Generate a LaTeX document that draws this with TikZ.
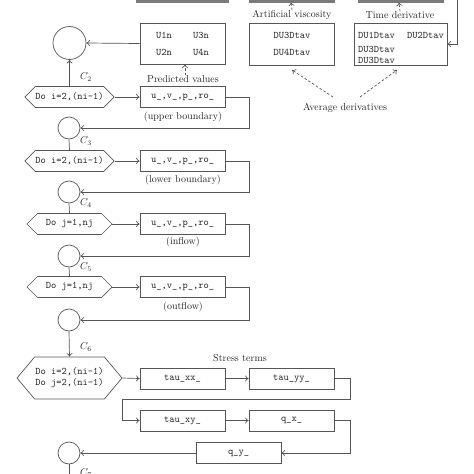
\documentclass[tikz,border=0pt]{standalone}
\usetikzlibrary{shapes.symbols,arrows.meta}
\definecolor{lc}{HTML}{555555}
\definecolor{tc}{HTML}{222222}
\definecolor{gs}{HTML}{7A7A7A}
\begin{document}
\begin{tikzpicture}[x=1pt,y=-1pt,
  line/.style={draw=lc, line width=0.7pt},
  arr/.style={line, -{To[length=3.5pt,width=6pt]}},
  dsh/.style={line, dashed, dash pattern=on 2.5pt off 2pt, -{To[length=3.5pt,width=6pt]}},
  box/.style={draw=lc, line width=0.7pt, minimum width=85pt, minimum height=21pt, inner sep=0pt, text=tc, font=\ttfamily\fontsize{10}{12}\selectfont},
  hexa/.style={signal, signal to=west and east, signal pointer angle=90, draw=lc, line width=0.7pt, minimum width=85pt, minimum height=21pt, inner sep=0pt, text=tc, font=\ttfamily\fontsize{10}{12}\selectfont},
  circ/.style={circle, draw=lc, line width=0.7pt, minimum size=22pt, inner sep=0pt},
  lab/.style={inner sep=0pt, text=tc, font=\fontsize{10}{12}\selectfont},
  tt/.style={inner sep=0pt, text=tc, font=\ttfamily\fontsize{10}{12}\selectfont}]
\useasboundingbox (0,0) rectangle (474,474);
% gray strips at top (bottoms of boxes above the frame)
\fill[gs] (136,-6) rectangle (229,2.5);
\fill[gs] (249,-6) rectangle (335,2.5);
\fill[gs] (358,-6) rectangle (444,2.5);
\coordinate (g2) at (291,2.5);
\coordinate (g3) at (399,2.5);
\coordinate (tr) at (457,-2);
% top boxes
\node[box, minimum width=85pt, minimum height=41pt] (pv) at (182.5,43.5) {};
\node[tt] (u1) at (164,35) {U1n};
\node[tt] (u3) at (201,35) {U3n};
\node[tt] (u2) at (164,52) {U2n};
\node[tt] (u4) at (201,52) {U4n};
\node[lab] (pvl) at (183,79) {Predicted values};
\node[box, minimum width=85pt, minimum height=42pt] (av) at (291.5,44) {};
\node[tt] (a3) at (292,35) {DU3Dtav};
\node[tt] (a4) at (292,52) {DU4Dtav};
\node[lab] (avl) at (292,15) {Artificial viscosity};
\node[box, minimum width=93pt, minimum height=42pt] (td) at (400.5,44) {};
\node[tt, anchor=west] (t1) at (358,35) {DU1Dtav};
\node[tt] (t2) at (425.5,35) {DU2Dtav};
\node[tt, anchor=west] (t3) at (358,49) {DU3Dtav};
\node[tt, anchor=west] (t4) at (358,60) {DU3Dtav};
\node[lab] (tdl) at (400,15) {Time derivative};
\node[lab] (adl) at (345,108) {Average derivatives};
\coordinate (ad1) at (333,97);
\coordinate (ad2) at (360,97);
\coordinate (ae1) at (292,70);
\coordinate (ae2) at (397,70);
\draw[dsh] (avl.north) -- (g2);
\draw[dsh] (tdl.north) -- (g3);
\draw[dsh] (pvl.north -| 185,0) -- (pv.south -| 185,0);
\draw[dsh] (ad1) -- (ae1);
\draw[dsh] (ad2) -- (ae2);
\draw[arr] (tr) |- (td.east);
% circles
\node[circ, minimum size=33pt] (c1) at (69.5,43) {};
\node[circ] (c3) at (69,128) {};
\node[circ] (c4) at (69,192) {};
\node[circ] (c5) at (69,256) {};
\node[circ] (c6) at (69,320) {};
\node[circ] (c7) at (69,453) {};
\node[lab] (l2) at (86,77) {$C_2$};
\node[lab] (l3) at (86,141) {$C_3$};
\node[lab] (l4) at (86,203) {$C_4$};
\node[lab] (l5) at (86,267) {$C_5$};
\node[lab] (l6) at (86,347) {$C_6$};
\node[lab] (l7) at (86,473) {$C_7$};
% hexagons
\node[hexa] (h1) at (69.5,97) {Do i=2,(ni-1)};
\node[hexa] (h2) at (69.5,161) {Do i=2,(ni-1)};
\node[hexa] (h3) at (69.5,224) {Do j=1,nj};
\node[hexa] (h4) at (69.5,287) {Do j=1,nj};
\node[hexa, minimum width=105pt, minimum height=42pt, signal pointer angle=100, align=center] (h5) at (69.5,378) {Do i=2,(ni-1)\\[-1pt]Do j=2,(ni-1)};
% boundary boxes
\node[box] (b1) at (182.5,97) {u\_,v\_,p\_,ro\_};
\node[box] (b2) at (182.5,161) {u\_,v\_,p\_,ro\_};
\node[box] (b3) at (182.5,224) {u\_,v\_,p\_,ro\_};
\node[box] (b4) at (182.5,287) {u\_,v\_,p\_,ro\_};
\node[lab] (bl1) at (183,117) {(upper boundary)};
\node[lab] (bl2) at (183,180) {(lower boundary)};
\node[lab] (bl3) at (183,242) {(inflow)};
\node[lab] (bl4) at (183,307) {(outflow)};
% stress boxes
\node[lab] (stl) at (240,358) {Stress terms};
\node[box] (txx) at (182.5,378.5) {tau\_xx\_};
\node[box] (tyy) at (291.5,378.5) {tau\_yy\_};
\node[box] (txy) at (182.5,420.5) {tau\_xy\_};
\node[box] (qx) at (291.5,420.5) {q\_x\_};
\node[box] (qy) at (238.5,453) {q\_y\_};
\coordinate (k1) at (122,399.5);
\coordinate (bot) at (69,480);
% connectors
\draw[arr] (pv.west) -- (c1.east);
\draw[arr] (h1.north) -- (c1.south);
\draw[line] (h2.north) -- (c3.south);
\draw[line] (h3.north) -- (c4.south);
\draw[line] (h4.north) -- (c5.south);
\draw[arr] (c6.south) -- (h5.north);
\draw[line] (c7.south) -- (bot);
\draw[arr] (h1.east) -- (b1.west);
\draw[arr] (h2.east) -- (b2.west);
\draw[arr] (h3.east) -- (b3.west);
\draw[arr] (h4.east) -- (b4.west);
\draw[arr] (b1.east) -- ++(24,0) |- (c3.east);
\draw[arr] (b2.east) -- ++(24,0) |- (c4.east);
\draw[arr] (b3.east) -- ++(24,0) |- (c5.east);
\draw[arr] (b4.east) -- ++(24,0) |- (c6.east);
\draw[arr] (h5.east) -- (txx.west);
\draw[arr] (txx.east) -- (tyy.west);
\draw[arr] (tyy.east) -| ++(16,21) -- (k1) |- (txy.west);
\draw[arr] (txy.east) -- (qx.west);
\draw[arr] (qx.east) -- ++(16,0) |- (qy.east);
\draw[arr] (qy.west) -- (c7.east);
\end{tikzpicture}
\end{document}
